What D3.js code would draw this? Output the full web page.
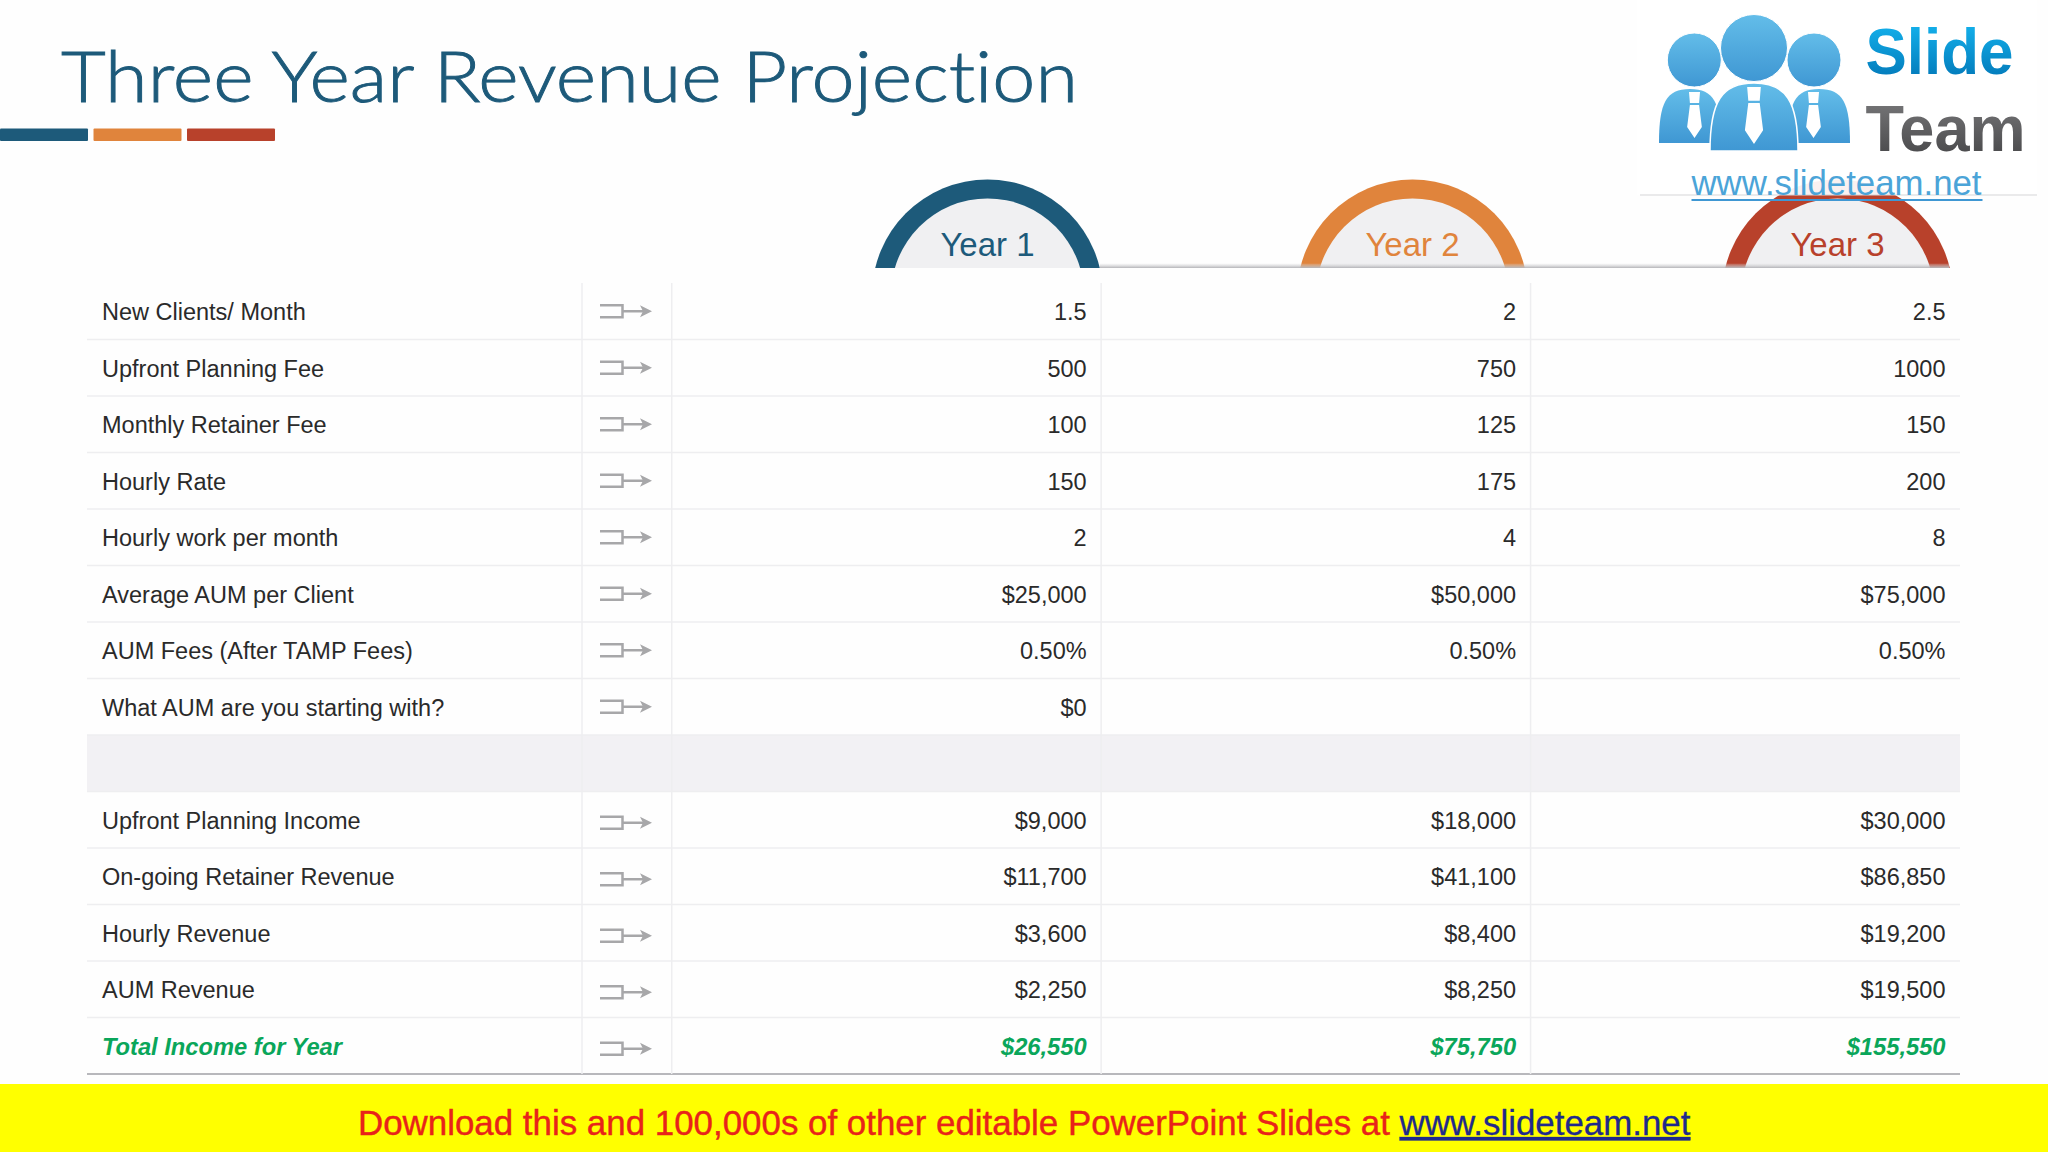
<!DOCTYPE html>
<html>
<head>
<meta charset="utf-8">
<script src="https://cdn.jsdelivr.net/npm/d3@7"></script>
<style>
  html, body { margin: 0; padding: 0; background: #fefefe; }
  svg { display: block; }
</style>
</head>
<body>
<svg id="chart" width="2048" height="1152"></svg>
<script>
const rowLabels = [
  "New Clients/ Month", "Upfront Planning Fee", "Monthly Retainer Fee", "Hourly Rate",
  "Hourly work per month", "Average AUM per Client", "AUM Fees (After TAMP Fees)",
  "What AUM are you starting with?", "",
  "Upfront Planning Income", "On-going Retainer Revenue", "Hourly Revenue", "AUM Revenue",
  "Total Income for Year"
];
const years = ["Year 1", "Year 2", "Year 3"];
const yearColors = ["#1d5a7a", "#e0843c", "#b8412b"];
const year1 = ["1.5", "500", "100", "150", "2", "$25,000", "0.50%", "$0", "", "$9,000", "$11,700", "$3,600", "$2,250", "$26,550"];
const year2 = ["2", "750", "125", "175", "4", "$50,000", "0.50%", "", "", "$18,000", "$41,100", "$8,400", "$8,250", "$75,750"];
const year3 = ["2.5", "1000", "150", "200", "8", "$75,000", "0.50%", "", "", "$30,000", "$86,850", "$19,200", "$19,500", "$155,550"];
const yearValues = [year1, year2, year3];

const font = "'Liberation Sans', Arial, sans-serif";
const svg = d3.select("#chart");
const defs = svg.append("defs");

function verticalGradient(id, top, bottom, topOpacity = 1) {
  let g = defs.append("linearGradient").attr("id", id).attr("x1", 0).attr("y1", 0).attr("x2", 0).attr("y2", 1);
  g.append("stop").attr("offset", "0%").attr("stop-color", top).attr("stop-opacity", topOpacity);
  g.append("stop").attr("offset", "100%").attr("stop-color", bottom);
}
verticalGradient("slideFill", "#16b9f3", "#0071b2");
verticalGradient("teamFill", "#7d7d7f", "#434345");
verticalGradient("personFill", "#63bde9", "#3f97d3");
verticalGradient("lineFill", "#d8d8da", "#b4b4b8", 0.15);

// title and the three little bars
svg.append("text")
  .attr("x", 61).attr("y", 102)
  .attr("font-family", "Lato, sans-serif")
  .attr("font-weight", 300)
  .attr("font-size", 70)
  .attr("fill", "#1d5a7a")
  .attr("stroke", "#1d5a7a")
  .attr("stroke-width", 0.9)
  .attr("textLength", 1017)
  .attr("lengthAdjust", "spacingAndGlyphs")
  .style("font-variant-ligatures", "none")
  .text("Three Year Revenue Projection");

svg.selectAll("rect.accent").data(yearColors).join("rect")
  .attr("class", "accent")
  .attr("x", (d, i) => [0, 93.5, 187][i])
  .attr("y", 128.5).attr("width", 88).attr("height", 12.5).attr("rx", 1)
  .attr("fill", d => d);

// table scales
const y = d3.scaleBand().domain(d3.range(rowLabels.length)).range([283, 1074]);
const colX = d3.scaleLinear().domain([0, 3]).range([671.7, 1960]);
const arcX = d3.scalePoint().domain(years).range([987.5, 1837.5]);
const left = 87, arrowCol = 582;

// year arches, cut off at the top of the table
defs.append("clipPath").attr("id", "arcClip")
  .append("rect").attr("x", 800).attr("y", 100).attr("width", 1200).attr("height", 168);
const arches = svg.append("g").attr("clip-path", "url(#arcClip)");
arches.selectAll("circle.outer").data(years).join("circle")
  .attr("class", "outer")
  .attr("cx", d => arcX(d)).attr("cy", 295).attr("r", 115.5)
  .attr("fill", (d, i) => yearColors[i]);
arches.selectAll("circle.inner").data(years).join("circle")
  .attr("class", "inner")
  .attr("cx", d => arcX(d)).attr("cy", 295).attr("r", 96.5)
  .attr("fill", "#f0f0f2");

// shaded line joining the arches, runs over the feet of the later ones
svg.append("rect").attr("x", 1100).attr("y", 263.5).attr("width", 849).attr("height", 4.5).attr("fill", "url(#lineFill)");

svg.selectAll("text.year").data(years).join("text")
  .attr("class", "year")
  .attr("x", d => arcX(d)).attr("y", 256)
  .attr("text-anchor", "middle")
  .attr("font-family", font).attr("font-size", 33)
  .attr("fill", (d, i) => yearColors[i])
  .text(d => d);

// separator band
svg.append("rect")
  .attr("x", left).attr("y", y(8)).attr("width", colX(3) - left).attr("height", y.bandwidth())
  .attr("fill", "#f2f1f4");

// row rules
svg.selectAll("line.rule").data(d3.range(1, rowLabels.length)).join("line")
  .attr("class", "rule")
  .attr("x1", left).attr("x2", colX(3))
  .attr("y1", d => y(d)).attr("y2", d => y(d))
  .attr("stroke", "#eeeef0").attr("stroke-width", 1.5);
svg.append("line")
  .attr("x1", left).attr("x2", colX(3)).attr("y1", 1074).attr("y2", 1074)
  .attr("stroke", "#b8b8bc").attr("stroke-width", 2);

// column rules
svg.selectAll("line.col").data([arrowCol, colX(0), colX(1), colX(2)]).join("line")
  .attr("class", "col")
  .attr("x1", d => d).attr("x2", d => d).attr("y1", 283).attr("y2", 1074)
  .attr("stroke", "#eeeef0").attr("stroke-width", 1.5);

// rows
const rows = svg.selectAll("g.row").data(rowLabels).join("g")
  .attr("class", "row")
  .attr("transform", (d, i) => `translate(0,${y(i) + y.bandwidth() / 2})`);

const isTotal = i => i === rowLabels.length - 1;

rows.append("text")
  .attr("x", 102).attr("y", 9)
  .attr("font-family", font)
  .attr("font-size", (d, i) => isTotal(i) ? 23.7 : 23.5)
  .attr("font-weight", (d, i) => isTotal(i) ? "bold" : "normal")
  .attr("font-style", (d, i) => isTotal(i) ? "italic" : "normal")
  .attr("fill", (d, i) => isTotal(i) ? "#0aa65a" : "#2a2a2a")
  .text(d => d);

yearValues.forEach((values, c) => {
  rows.append("text")
    .attr("x", colX(c + 1) - 14.5).attr("y", 9)
    .attr("text-anchor", "end")
    .attr("font-family", font)
    .attr("font-size", (d, i) => isTotal(i) ? 23.7 : 23.5)
    .attr("font-weight", (d, i) => isTotal(i) ? "bold" : "normal")
    .attr("font-style", (d, i) => isTotal(i) ? "italic" : "normal")
    .attr("fill", (d, i) => isTotal(i) ? "#0aa65a" : "#2a2a2a")
    .text((d, i) => values[i]);
});

// bracket + arrow glyph, lower block sits a little lower in the source
const arrows = rows.filter((d, i) => i !== 8).append("g")
  .attr("transform", function () {
    const i = rowLabels.indexOf(d3.select(this.parentNode).datum());
    return `translate(600,${i > 8 ? 3 : 0})`;
  });
arrows.append("path")
  .attr("d", "M0,-6 H22.5 V6 H0 M22.5,0 H44")
  .attr("fill", "none").attr("stroke", "#a7a7a9").attr("stroke-width", 2.5);
arrows.append("path")
  .attr("d", "M40,-6 L52,0 L40,6 L43,0 Z")
  .attr("fill", "#a7a7a9");

// logo panel
svg.append("rect").attr("x", 1637).attr("y", 0).attr("width", 400).attr("height", 195)
  .attr("fill", "#ffffff").attr("fill-opacity", 0.93);
svg.append("line").attr("x1", 1640).attr("x2", 2037).attr("y1", 195).attr("y2", 195)
  .attr("stroke", "#d5d5d7").attr("stroke-width", 1);

const logo = svg.append("g");
[[1659, 1721, 89, 143], [1788, 1850, 89, 143]].forEach(b => {
  const mid = (b[0] + b[1]) / 2;
  logo.append("path")
    .attr("d", `M${b[0]},${b[3]} C${b[0]},${b[2] + 14} ${mid - 24},${b[2]} ${mid},${b[2]} C${mid + 24},${b[2]} ${b[1]},${b[2] + 14} ${b[1]},${b[3]} Z`)
    .attr("fill", "url(#personFill)");
});
logo.append("path")
  .attr("d", "M1710,151 C1710,101 1722,83 1754,83 C1786,83 1798,101 1798,151 Z")
  .attr("fill", "url(#personFill)").attr("stroke", "#ffffff").attr("stroke-width", 1.5);
[[1694.3, 60, 27], [1814, 60, 27], [1754, 48, 33.5]].forEach(h => {
  logo.append("circle").attr("cx", h[0]).attr("cy", h[1]).attr("r", h[2])
    .attr("fill", "url(#personFill)").attr("stroke", "#ffffff").attr("stroke-width", 1);
});
[[1694.5, 92, 0.92], [1754, 87, 1.14], [1813.5, 92, 0.92]].forEach(t => {
  logo.append("path")
    .attr("transform", `translate(${t[0]},${t[1]}) scale(${t[2]})`)
    .attr("d", "M-6,0 H6 L5,12 H-5 Z M-5,14 H5 L8,38 L0,50 L-8,38 Z")
    .attr("fill", "#ffffff");
});
logo.append("text").attr("x", 1865.5).attr("y", 74)
  .attr("font-family", font).attr("font-weight", "bold").attr("font-size", 65)
  .attr("textLength", 148).attr("lengthAdjust", "spacingAndGlyphs")
  .attr("fill", "url(#slideFill)").text("Slide");
logo.append("text").attr("x", 1865.5).attr("y", 150.5)
  .attr("font-family", font).attr("font-weight", "bold").attr("font-size", 65)
  .attr("textLength", 160).attr("lengthAdjust", "spacingAndGlyphs")
  .attr("fill", "url(#teamFill)").text("Team");
logo.append("text").attr("x", 1836.5).attr("y", 195)
  .attr("text-anchor", "middle")
  .attr("font-family", font).attr("font-size", 34.8)
  .attr("fill", "#4ba4d8").text("www.slideteam.net");
logo.append("line").attr("x1", 1691.5).attr("x2", 1982.5).attr("y1", 200).attr("y2", 200)
  .attr("stroke", "#3f97d3").attr("stroke-width", 2);

// download banner
svg.append("rect").attr("x", 0).attr("y", 1084).attr("width", 2048).attr("height", 68).attr("fill", "#ffff00");
const banner = svg.append("text")
  .attr("x", 358).attr("y", 1135)
  .attr("font-family", font).attr("font-size", 34.9);
banner.append("tspan").attr("fill", "#e8231a").attr("stroke", "#e8231a").attr("stroke-width", 0.4)
  .text("Download this and 100,000s of other editable PowerPoint Slides at ");
banner.append("tspan").attr("fill", "#1f2a8c").attr("stroke", "#1f2a8c").attr("stroke-width", 0.3)
  .attr("text-decoration", "underline").text("www.slideteam.net");
</script>
</body>
</html>
